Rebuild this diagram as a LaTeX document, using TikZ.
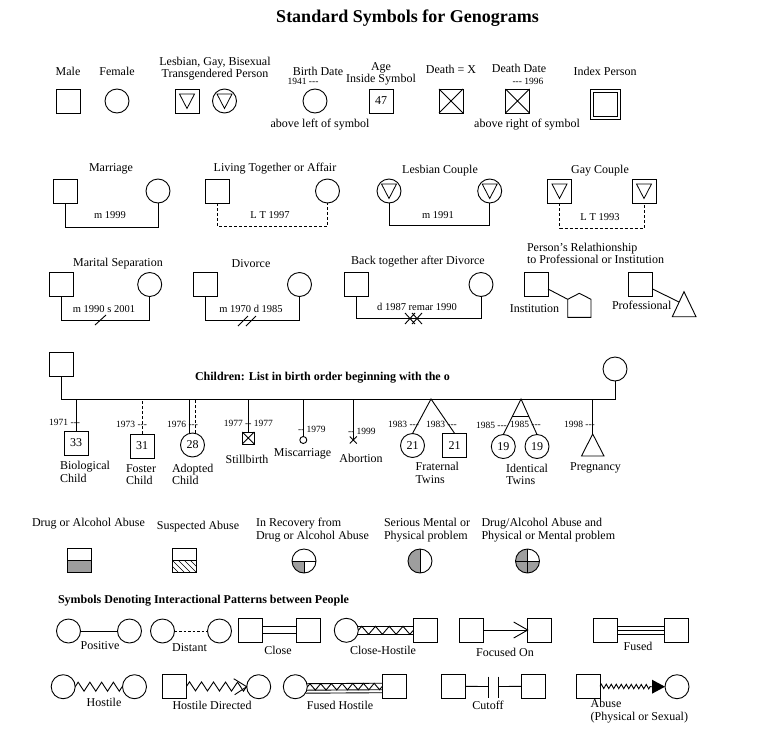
\documentclass[tikz,border=0pt]{standalone}
\usepackage{fontspec}
\setmainfont{Liberation Serif}
\usetikzlibrary{calc,decorations.pathmorphing}
\newcommand\invtri[1]{\draw[line width=0.8pt] ([shift={(-7.5,-7)}]#1.center) -- ([shift={(7.5,-7)}]#1.center) -- ([shift={(0,7.5)}]#1.center) -- cycle;}
\newcommand\crossx[1]{\draw (#1.north west) -- (#1.south east) (#1.north east) -- (#1.south west);}
\begin{document}
\begin{tikzpicture}[x=1pt,y=-1pt,line width=0.9pt,
 every node/.style={inner sep=0pt,outer sep=0pt},
 lbl/.style={font=\fontsize{12}{12.5}\selectfont},
 mid/.style={font=\fontsize{10.5}{11}\selectfont},
 dt/.style={font=\fontsize{9.5}{10}\selectfont},
 hd/.style={font=\fontsize{12}{13}\selectfont\bfseries},
 sq/.style={draw,rectangle,minimum size=24pt,font=\fontsize{12}{12}\selectfont},
 ci/.style={draw,circle,minimum size=24pt,font=\fontsize{12}{12}\selectfont},
 dsh/.style={dash pattern=on 3pt off 2pt},
 zz/.style={decorate,decoration={zigzag,segment length=#1,amplitude=4.5pt}},
]
\colorlet{shdcol}{black!38}
\path[fill=white,use as bounding box] (0,0) rectangle (773,736);

\node[font=\fontsize{18}{19}\selectfont\bfseries] (title) at (407.5,18) {Standard Symbols for Genograms};

% ---------- row 1
\node[lbl] (lmale) at (68,71) {Male};
\node[sq] (male) at (68,101) {};
\node[lbl] (lfem) at (117,71) {Female};
\node[ci] (fem) at (117,101) {};
\node[lbl,align=center] (llgb) at (215,68.5) {Lesbian, Gay, Bisexual\\Transgendered Person};
\node[sq] (lgb1) at (187,101) {};
\node[ci] (lgb2) at (224.5,101) {};
\invtri{lgb1}\invtri{lgb2}
\node[lbl] (lbirth) at (318,71) {Birth Date};
\node[dt] (by) at (303,81.5) {1941 -{}-{}-};
\node[ci] (birth) at (315,101) {};
\node[lbl] (lab1) at (320,125) {above left of symbol};
\node[lbl,align=center] (lage) at (381,74) {Age\\Inside Symbol};
\node[sq] (age) at (381,101) {47};
\node[lbl] (ldeath) at (451,69) {Death = X};
\node[sq] (death) at (451,101) {};
\crossx{death}
\node[lbl] (ldd) at (519,68) {Death Date};
\node[dt] (dy) at (528,81) {-{}-{}- 1996};
\node[sq] (dd) at (517.5,101) {};
\crossx{dd}
\node[lbl] (lab2) at (527,125) {above right of symbol};
\node[lbl] (lidx) at (605,71) {Index Person};
\node[draw,minimum size=30pt] (idx) at (605.5,104) {};
\node[draw,minimum size=24pt] (idxin) at (idx.center) {};

% ---------- row 2
\node[lbl] at (111,169) {Marriage};
\node[sq] (mh) at (65.5,191) {};
\node[ci] (mw) at (158,191) {};
\draw (mh.south) -- ++(0,24) -| (mw.south);
\node[mid] at (110,215) {m 1999};

\node[lbl] at (275,169) {Living Together or Affair};
\node[sq] (lh) at (217,191) {};
\node[ci] (lw) at (327.5,191) {};
\draw[dsh] (lh.south) -- ++(0,23) -| (lw.south);
\node[mid] at (270,215) {L T 1997};

\node[lbl] at (440,170.5) {Lesbian Couple};
\node[ci] (lc1) at (389,191) {};
\node[ci] (lc2) at (489.7,191) {};
\invtri{lc1}\invtri{lc2}
\draw (lc1.south) -- ++(0,22) -| (lc2.south);
\node[mid] at (438,215) {m 1991};

\node[lbl] at (600,170.5) {Gay Couple};
\node[sq] (gc1) at (559.5,191) {};
\node[sq] (gc2) at (644,191) {};
\invtri{gc1}\invtri{gc2}
\draw[dsh] (gc1.south) -- ++(0,25) -| (gc2.south);
\node[mid] at (600,217) {L T 1993};

% ---------- row 3
\node[lbl] at (118,264) {Marital Separation};
\node[sq] (sh) at (61.5,284.5) {};
\node[ci] (sw) at (149.7,284.5) {};
\draw (sh.south) -- ++(0,23.5) -| (sw.south);
\node[mid] at (104,309) {m 1990 s 2001};
\draw (95,325) -- (106,315);

\node[lbl] at (251,264) {Divorce};
\node[sq] (dh) at (205.5,284.5) {};
\node[ci] (dw) at (299.5,284.5) {};
\draw (dh.south) -- ++(0,23.5) -| (dw.south);
\node[mid] at (251,309) {m 1970 d 1985};
\draw (238,326) -- (248,316) (246,326) -- (256,316);

\node[lbl] at (418,262) {Back together after Divorce};
\node[sq] (bh) at (356,284.5) {};
\node[ci] (bw) at (481,284.5) {};
\draw (bh.south) -- ++(0,21.5) -| (bw.south);
\node[mid] at (417,307) {d 1987 remar 1990};
\draw (405,324) -- (415,313) (405,313) -- (415,324)
      (412,324) -- (422,313) (412,313) -- (422,324);

\node[lbl,align=left,anchor=west] at (527,253.5) {Person's Relathionship\\to Professional or Institution};
\node[sq] (pi) at (536,284.5) {};
\coordinate (inst) at (567.7,299.3);
\draw (inst) -- (579.3,293.3) -- (591,299.3) -- (591,317.3) -- (567.7,317.3) -- cycle;
\draw ([yshift=-4.5pt]pi.east) -- (inst);
\node[lbl] at (534.5,309) {Institution};
\node[sq] (pp) at (640.5,284.5) {};
\coordinate (prof) at (684,291.7);
\draw (prof) -- (696,316.7) -- (672.3,316.7) -- cycle;
\draw ([yshift=-4.5pt]pp.east) -- (679,302);
\node[lbl] at (641.7,305) {Professional};

% ---------- row 4 children
\coordinate (sib) at (0,399);
\node[sq] (fa) at (61.5,364) {};
\node[ci] (mo) at (615,369) {};
\draw (fa.south) -- (fa.south |- sib) -| (mo.south);
\node[hd,anchor=west] at (195,378) {Children: List in birth order beginning with the o};

\node[sq] (c1) at (76,443) {33};
\draw (c1.north) -- (c1.north |- sib);
\node[dt,anchor=east] at (80,422) {1971 -{}-{}-};
\node[lbl,align=left,anchor=west] at (60,472) {Biological\\Child};

\node[sq] (c2) at (142,446) {31};
\draw[dsh] (c2.north) -- (c2.north |- sib);
\node[dt,anchor=east] at (147,424) {1973 -{}-{}-};
\node[lbl,align=left,anchor=west] at (126,474.5) {Foster\\Child};

\node[ci] (c3) at (192.5,445) {28};
\draw ([xshift=-3pt]c3.north) -- ([xshift=-3pt]c3.north |- sib);
\draw[dsh] ([xshift=2.5pt]c3.north) -- ([xshift=2.5pt]c3.north |- sib);
\node[dt,anchor=east] at (198,424) {1976 -{}-{}-};
\node[lbl,align=left,anchor=west] at (172,474.5) {Adopted\\Child};

\node[draw,minimum size=12pt] (c4) at (248.3,438) {};
\crossx{c4}
\draw (c4.north) -- (c4.north |- sib);
\node[dt] at (248.3,423) {1977 -{}- 1977};
\node[lbl] at (247,459) {Stillbirth};

\node[draw,circle,minimum size=7pt] (c5) at (303.3,440) {};
\draw (c5.north) -- (c5.north |- sib);
\node[dt,anchor=west] at (298,429) {-{}- 1979};
\node[lbl] at (302.5,454) {Miscarriage};

\coordinate (c6) at (353.3,440);
\draw ([shift={(-3.5,-3.5)}]c6) -- ([shift={(3.5,3.5)}]c6) ([shift={(3.5,-3.5)}]c6) -- ([shift={(-3.5,3.5)}]c6);
\draw (c6) -- (c6 |- sib);
\node[dt,anchor=west] at (348,431) {-{}- 1999};
\node[lbl] at (361,458) {Abortion};

\coordinate (ft) at (431,399);
\node[ci] (t1) at (412.5,445.5) {21};
\node[sq] (t2) at (454.7,445.5) {21};
\draw (t1.north) -- (ft) -- (t2.north);
\node[dt,anchor=east] at (419,424) {1983 -{}-{}-};
\node[dt,anchor=west] at (426,424) {1983 -{}-{}-};
\node[lbl,align=left,anchor=west] at (415.7,473) {Fraternal\\Twins};

\coordinate (it) at (521,399);
\node[ci] (i1) at (503.3,446.5) {19};
\node[ci] (i2) at (537,446.5) {19};
\draw (i1.north) -- (it) -- (i2.north);
\draw ($(it)!0.5!(i1.north)$) -- ($(it)!0.5!(i2.north)$);
\node[dt,anchor=west] at (476,425) {1985 -{}-{}-};
\node[dt,anchor=west] at (510,424) {1985 -{}-{}-};
\node[lbl,align=left,anchor=west] at (506,474.5) {Identical\\Twins};

\coordinate (pg) at (592.7,434);
\draw (pg) -- (pg |- sib);
\draw (pg) -- (604,456) -- (581.5,456) -- cycle;
\node[dt,anchor=west] at (564,424) {1998 -{}-{}-};
\node[lbl] at (595.5,468) {Pregnancy};

% ---------- row 5
\node[lbl] at (88.5,524) {Drug or Alcohol Abuse};
\node[sq,path picture={\fill[shdcol] (path picture bounding box.west) rectangle (path picture bounding box.south east);
  \draw (path picture bounding box.west) -- (path picture bounding box.east);}] (da) at (79.5,560) {};
\node[lbl] at (198,526.7) {Suspected Abuse};
\node[sq,path picture={\clip (path picture bounding box.west) rectangle (path picture bounding box.south east);
  \foreach \k in {-12,-6,...,24} \draw[line width=0.6pt] ([xshift=\k pt]path picture bounding box.west) -- ++(12,12);
  \draw (path picture bounding box.west) -- (path picture bounding box.east);}] (sa) at (184,560) {};
\node[lbl,align=left,anchor=west] at (256,530) {In Recovery from\\Drug or Alcohol Abuse};
\node[ci,path picture={\fill[shdcol] (path picture bounding box.center) rectangle (path picture bounding box.south west);
  \draw (path picture bounding box.west) -- (path picture bounding box.east) (path picture bounding box.center) -- (path picture bounding box.south);}] (ra) at (304,561) {};
\node[lbl,align=left,anchor=west] at (384,530) {Serious Mental or\\Physical problem};
\node[ci,path picture={\fill[shdcol] (path picture bounding box.north west) rectangle (path picture bounding box.south);
  \draw (path picture bounding box.north) -- (path picture bounding box.south);}] (sm) at (420,561) {};
\node[lbl,align=left,anchor=west] at (481.5,530) {Drug/Alcohol Abuse and\\Physical or Mental problem};
\node[ci,path picture={\fill[shdcol] (path picture bounding box.north west) rectangle (path picture bounding box.south);
  \fill[shdcol] (path picture bounding box.center) rectangle (path picture bounding box.south east);
  \draw (path picture bounding box.north) -- (path picture bounding box.south) (path picture bounding box.west) -- (path picture bounding box.east);}] (dm) at (527.5,561) {};

% ---------- row 6
\node[hd,anchor=west] at (58,601) {Symbols Denoting Interactional Patterns between People};
\node[ci] (p1) at (68.5,631) {};
\node[ci] (p2) at (129.5,631) {};
\draw (p1) -- (p2);
\node[lbl] at (100,646) {Positive};

\node[ci] (d1) at (162.5,631) {};
\node[ci] (d2) at (219.5,631) {};
\draw[dash pattern=on 2.5pt off 2pt] (d1) -- (d2);
\node[lbl] at (189.5,648) {Distant};

\node[sq] (cl1) at (250.5,630) {};
\node[sq] (cl2) at (308.5,630) {};
\draw ([yshift=3.7pt]cl1.east) -- ([yshift=3.7pt]cl2.west);
\draw ([yshift=-3.7pt]cl1.east) -- ([yshift=-3.7pt]cl2.west);
\node[lbl] at (278,650) {Close};

\node[ci] (ch1) at (346.3,630.3) {};
\node[sq] (ch2) at (425.3,630.3) {};
\draw ([shift={(11.3,-4)}]ch1.center) -- ([yshift=4pt]ch2.west);
\draw ([shift={(11.3,4)}]ch1.center) -- ([yshift=-4pt]ch2.west);
\draw[decorate,decoration={zigzag,segment length=13.75pt,amplitude=4pt}] (ch1.east) -- (ch2.west);
\node[lbl] at (383,650.7) {Close-Hostile};

\node[sq] (f1) at (471.3,630) {};
\node[sq] (f2) at (539.7,630) {};
\draw (f1) -- (f2);
\draw ([shift={(-14,-8)}]f2.west) -- (f2.west) -- ([shift={(-14,8)}]f2.west);
\node[lbl] at (505,652) {Focused On};

\node[sq] (fu1) at (605.3,630.3) {};
\node[sq] (fu2) at (676.2,630.3) {};
\draw ([yshift=3.7pt]fu1.east) -- ([yshift=3.7pt]fu2.west);
\draw (fu1.east) -- (fu2.west);
\draw ([yshift=-3.9pt]fu1.east) -- ([yshift=-3.9pt]fu2.west);
\node[lbl] at (638,646.7) {Fused};

\node[ci] (h1) at (63.2,686.7) {};
\node[ci] (h2) at (134.5,686.7) {};
\draw[zz=11.75pt] (h1) -- (h2);
\node[lbl] at (104,702.3) {Hostile};

\node[sq] (hd1) at (174.5,686.3) {};
\node[ci] (hd2) at (258.7,686.7) {};
\draw[zz=12pt] (hd1.east) -- (hd2.west);
\draw ([shift={(-13,-8)}]hd2.west) -- (hd2.west) -- ([shift={(-12,8)}]hd2.west);
\node[lbl] at (212,705.7) {Hostile Directed};

\node[ci] (fh1) at (295.3,686.7) {};
\node[sq] (fh2) at (394.7,686.2) {};
\draw ([shift={(11.6,-3)}]fh1.center) -- ([yshift=3pt]fh2.west);
\draw ([shift={(11.5,3.5)}]fh1.center) -- ([yshift=-3.5pt]fh2.west);
\draw ([shift={(10.2,6.5)}]fh1.center) -- ([yshift=-6.5pt]fh2.west);
\draw[decorate,decoration={zigzag,segment length=10.7pt,amplitude=3.2pt}] ([shift={(12,0.25)}]fh1.center) -- ([yshift=-0.25pt]fh2.west);
\node[lbl] at (340,705) {Fused Hostile};

\node[sq] (cu1) at (453.3,686.3) {};
\node[sq] (cu2) at (533.3,686.3) {};
\coordinate (cb1) at (488.3,686.5);
\coordinate (cb2) at (498.3,686.5);
\draw (cu1) -- (cb1);
\draw (cb2) -- (cu2);
\draw ([yshift=10pt]cb1) -- ([yshift=-11.5pt]cb1);
\draw ([yshift=10pt]cb2) -- ([yshift=-11.5pt]cb2);
\node[lbl] at (488,705.7) {Cutoff};

\node[sq] (ab1) at (588,686.3) {};
\node[ci] (ab2) at (677,686.7) {};
\draw[decorate,decoration={zigzag,segment length=5pt,amplitude=2.2pt}] (ab1.east) -- ([xshift=-13pt]ab2.west);
\fill ([shift={(-13,-7)}]ab2.west) -- (ab2.west) -- ([shift={(-13,7)}]ab2.west) -- cycle;
\node[lbl,align=left,anchor=west] at (590.7,711) {Abuse\\(Physical or Sexual)};
\end{tikzpicture}
\end{document}
